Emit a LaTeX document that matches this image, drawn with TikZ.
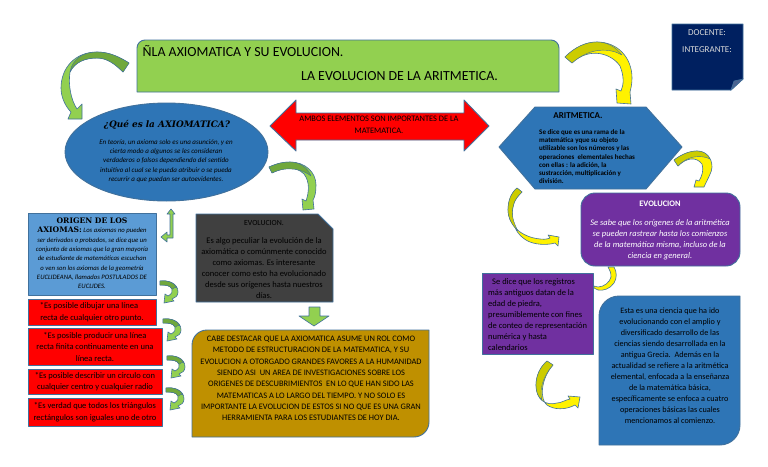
\documentclass[tikz,border=0pt]{standalone}
\usepackage{fontspec}
\setmainfont{Carlito}
\newfontfamily\headfont{DejaVu Serif}
\definecolor{lime}{HTML}{92D050}
\definecolor{edge}{HTML}{41719C}
\definecolor{midblue}{HTML}{2E75B6}
\definecolor{lightblue}{HTML}{5B9BD5}
\definecolor{darkgrey}{HTML}{404040}
\definecolor{gold}{HTML}{BF9000}
\definecolor{navy}{HTML}{002060}
\definecolor{violet2}{HTML}{7030A0}
\definecolor{leaf}{HTML}{70A83C}
\definecolor{olive2}{HTML}{CCCC00}
\tikzset{
 x=1pt,y=-1pt,
 shapeb/.style={draw=edge,line width=0.9pt,line join=round},
 rect/.style={shapeb,rectangle,inner sep=0pt,anchor=north west},
 txt/.style={inner sep=0pt,align=center,text=black},
 garrow/.style={draw=edge,line width=0.6pt,fill=lime,line join=round},
 yarrow/.style={draw=edge,line width=0.6pt,fill=yellow,line join=round},
 darkpart/.style={fill=leaf,draw=edge,line width=0.4pt,line join=round},
 ydarkpart/.style={fill=olive2,draw=edge,line width=0.4pt,line join=round},
}
\newcommand{\fs}[2]{\fontsize{#1}{#2}\selectfont}
\newcommand{\bentarrow}[2]{%
 \begin{scope}[shift={(#1,#2)}]
  \draw[garrow] (0,-2) .. controls (8,-3) and (18,0) .. (18,9) .. controls (18,13) and (15,15) .. (12,16) -- (14,18) -- (4,20) -- (5,11) -- (8,13) .. controls (12,11) and (13,8) .. (12,6) .. controls (10,2) and (5,2) .. (0,2) -- cycle;
  \draw[darkpart] (0,-2) .. controls (7,-3) and (14,-1) .. (17,5) .. controls (14,3) and (13,7) .. (12,6) .. controls (10,2) and (5,2) .. (0,2) -- cycle;
 \end{scope}}
\begin{document}
\begin{tikzpicture}
\useasboundingbox (0,0) rectangle (768,466);
\fill[white] (0,0) rectangle (768,466);

% title
\draw[shapeb,fill=lime] (137,92) -- (137,48) arc[start angle=180,end angle=270,radius=8] -- (551,40) arc[start angle=-90,end angle=0,radius=8] -- (559,92) -- cycle;
\node[txt,anchor=west,font=\fs{13.9}{18}] (t1) at (142.5,51.5) {ÑLA AXIOMATICA Y SU EVOLUCION.};
\node[txt,anchor=west,font=\fs{13.9}{18}] (t2) at (301,76) {LA EVOLUCION DE LA ARITMETICA.};

% ellipse
\draw[shapeb,fill=midblue] (166.5,152) ellipse[x radius=101.5,y radius=49];
\node[txt,font=\headfont\bfseries\itshape\fs{8.9}{12}] (q) at (167,125) {¿Qué es la AXIOMATICA?};
\node[txt,anchor=north,font=\itshape\fs{7}{9.2}] (qt) at (166,139.5) {En teoría, un axioma solo es una asunción, y en\\cierta modo a algunos se les consideran\\verdaderos o falsos dependiendo del sentido\\intuitivo al cual se le pueda atribuir o se pueda\\recurrir a que puedan ser autoevidentes.};

% double arrow
\draw[shapeb,fill=red] (270,126) -- (296,100) -- (296,113) -- (464,113) -- (464,100) -- (489,126) -- (464,151) -- (464,140) -- (296,140) -- (296,151) -- cycle;
\node[txt,font=\fs{8.4}{12}] (both) at (379,125) {AMBOS ELEMENTOS SON IMPORTANTES DE LA\\MATEMATICA.};

% left column
\node[rect,fill=lightblue,minimum width=128pt,minimum height=82pt] (orig) at (28,213) {};
\node[txt,font=\headfont\bfseries\fs{7.6}{10}] (orig1) at (92,221) {ORIGEN DE LOS};
\node[txt,anchor=north,font=\itshape\fs{6.7}{9.3}] (orig2) at (92,227) {\textup{\headfont\bfseries\fs{7.6}{9.3}AXIOMAS:} Los axiomas no pueden\\ser derivados o probados, se dice que un\\conjunto de axiomas que la gran mayoría\\de estudiante de matemáticas escuchan\\o ven son los axiomas de la geometría\\EUCLIDEANA, llamados POSTULADOS DE\\EUCLIDES.};
\node[rect,fill=red,minimum width=128pt,minimum height=26pt] (r1) at (28,299) {};
\node[txt,font=\fs{8.5}{11.7}] (r1t) at (92,312.5) {\hspace*{-6pt}*Es posible dibujar una línea\\recta de cualquier otro punto.};
\node[rect,fill=red,minimum width=134pt,minimum height=37pt] (r2) at (28,328) {};
\node[txt,font=\fs{8.5}{11.3}] (r2t) at (95,347) {*Es posible producir una línea\\recta finita continuamente en una\\línea recta.};
\node[rect,fill=red,minimum width=134pt,minimum height=25pt] (r3) at (28,369) {};
\node[txt,font=\fs{8.5}{11.3}] (r3t) at (95,381.5) {*Es posible describir un círculo con\\cualquier centro y cualquier radio};
\node[rect,fill=red,minimum width=134pt,minimum height=28pt] (r4) at (28,398) {};
\node[txt,font=\fs{8.5}{11.7}] (r4t) at (95,412) {*Es verdad que todos los triángulos\\rectángulos son iguales uno de otro};

% bent double arrow
\draw[garrow] (171,209) -- (175,214) -- (173,214) -- (173,238) -- (167,238) -- (167,242) -- (161,237) -- (167,232) -- (167,235) -- (170,235) -- (170,214) -- (167,214) -- cycle;

% small curved arrows
\bentarrow{160}{283}
\bentarrow{163}{321}
\bentarrow{167}{358}
\bentarrow{166}{390}

% dark box
\draw[shapeb,fill=darkgrey] (196,214) -- (318,214) -- (333,229) -- (333,302) -- (196,302) -- cycle;
\node[txt,font=\fs{7.8}{10}] (ev0) at (264,223) {EVOLUCION.};
\node[txt,anchor=north,font=\fs{8.5}{11}] (evt) at (264,237.5) {Es algo peculiar la evolución de la\\axiomática o comúnmente conocido\\como axiomas. Es interesante\\conocer como esto ha evolucionado\\desde sus orígenes hasta nuestros\\días.};

% down arrow
\draw[garrow] (309,307) -- (320,307) -- (320,316) -- (329,316) -- (314,326) -- (299,316) -- (309,316) -- cycle;

% gold box
\draw[shapeb,fill=gold] (192,437) -- (192,345) arc[start angle=180,end angle=270,radius=15] -- (429,330) -- (429,422) arc[start angle=0,end angle=90,radius=15] -- cycle;
\node[txt,anchor=north,font=\fs{8.4}{11.3}] (goldt) at (311,336) {CABE DESTACAR QUE LA AXIOMATICA ASUME UN ROL COMO\\METODO DE ESTRUCTURACION DE LA MATEMATICA, Y SU\\EVOLUCION A OTORGADO GRANDES FAVORES A LA HUMANIDAD\\SIENDO ASI\ \ UN AREA DE INVESTIGACIONES SOBRE LOS\\ORIGENES DE DESCUBRIMIENTOS\ \ EN LO QUE HAN SIDO LAS\\MATEMATICAS A LO LARGO DEL TIEMPO. Y NO SOLO ES\\IMPORTANTE LA EVOLUCION DE ESTOS SI NO QUE ES UNA GRAN\\HERRAMIENTA PARA LOS ESTUDIANTES DE HOY DIA.};

% docente
\draw[shapeb,fill=navy] (672,24) -- (743,24) -- (743,79) -- (731,90) -- (672,90) -- cycle;
\draw[edge,line width=0.5pt,fill=navy!70!white] (743,79) -- (731,90) -- (734,81) -- cycle;
\node[txt,text=white!85!black,font=\fs{9}{10}] (doc) at (707,33) {DOCENTE:};
\node[txt,text=white!85!black,font=\fs{9}{10}] (int) at (707,50) {INTEGRANTE:};

% hexagon
\draw[shapeb,fill=midblue] (499,147) -- (535,107) -- (646,107) -- (682,147) -- (646,189) -- (535,189) -- cycle;
\node[txt,font=\bfseries\fs{9}{10}] (ar) at (578,115.5) {ARITMETICA.};
\node[txt,anchor=north west,align=left,font=\bfseries\fs{7}{8.3}] (art) at (539,129) {Se dice que es una rama de la\\matemática yque su objeto\\utilizable son los números y las\\operaciones\ \ elementales hechas\\con ellas : la adición, la\\sustracción, multiplicación y\\división.};

% purple 1
\draw[shapeb,fill=violet2] (581,207) arc[start angle=180,end angle=270,radius=14] -- (726,193) arc[start angle=-90,end angle=0,radius=14] -- (740,252) arc[start angle=0,end angle=90,radius=14] -- (595,266) arc[start angle=90,end angle=180,radius=14] -- cycle;
\node[txt,text=white,font=\bfseries\fs{8.4}{10}] (pev) at (660,204) {EVOLUCION};
\node[txt,text=white,anchor=north,font=\itshape\fs{8.5}{11.2}] (pevt) at (660,219) {Se sabe que los orígenes de la aritmética\\se pueden rastrear hasta los comienzos\\de la matemática misma, incluso de la\\ciencia en general.};

% purple 2
\node[rect,fill=violet2,minimum width=111pt,minimum height=81pt] (p2) at (482,273) {};
\node[txt,anchor=north west,align=left,font=\fs{8.5}{11}] (p2t) at (488,278.5) {\hspace*{4pt}Se dice que los registros\\más antiguos datan de la\\edad de piedra,\\presumiblemente con fines\\de conteo de representación\\numérica y hasta\\calendarios};

% blue box
\draw[shapeb,fill=midblue] (599,445) -- (599,316) arc[start angle=180,end angle=270,radius=20] -- (740,296) -- (740,425) arc[start angle=0,end angle=90,radius=20] -- cycle;
\node[txt,anchor=north,font=\fs{8.2}{11}] (bt) at (670,308) {Esta es una ciencia que ha ido\\evolucionando con el amplio y\\diversificado desarrollo de las\\ciencias siendo desarrollada en la\\antigua Grecia.\ \ Además en la\\actualidad se refiere a la aritmética\\elemental, enfocada a la enseñanza\\de la matemática básica,\\específicamente se enfoca a cuatro\\operaciones básicas las cuales\\mencionamos al comienzo.};

% curved block arrows
\draw[garrow] (129,63) .. controls (115,54) and (105,52) .. (97,52) .. controls (75,52) and (61,68) .. (61,88) .. controls (61,98) and (66,107) .. (71,112) -- (68,119) -- (82,119) -- (82,104) -- (77,109) .. controls (71,100) and (68,85) .. (70,72) .. controls (75,62) and (85,58) .. (97,58) .. controls (107,58) and (115,64) .. (123,72) -- cycle;
\draw[darkpart] (129,63) .. controls (115,54) and (105,52) .. (97,52) .. controls (82,52) and (72,60) .. (70,72) .. controls (75,62) and (85,58) .. (97,58) .. controls (107,58) and (115,64) .. (123,72) -- cycle;

\draw[garrow] (269,167) .. controls (278,163) and (284,162) .. (290,162) .. controls (305,162) and (316,172) .. (316,185) .. controls (316,192) and (315,197) .. (313,200) -- (314,209) -- (303,210) -- (302,199) -- (306,201) .. controls (309,192) and (310,182) .. (304,174) .. controls (296,166) and (284,167) .. (272,173) -- cycle;
\draw[darkpart] (269,167) .. controls (278,163) and (284,162) .. (290,162) .. controls (300,162) and (308,168) .. (311,176) .. controls (304,170) and (288,165) .. (272,173) -- cycle;

\draw[yarrow] (565,57) .. controls (575,47) and (586,42) .. (597,42) .. controls (618,42) and (632,58) .. (632,78) .. controls (632,84) and (631,88) .. (630,92) -- (631,104) -- (617,103) -- (616,89) -- (621,91) .. controls (624,84) and (624,76) .. (620,66) .. controls (612,54) and (590,46) .. (572,63) -- cycle;
\draw[ydarkpart] (565,57) .. controls (575,47) and (586,42) .. (597,42) .. controls (607,42) and (616,47) .. (622,55) .. controls (610,48) and (590,47) .. (572,63) -- cycle;

\draw[yarrow] (674,160) .. controls (682,154) and (690,151) .. (697,151) .. controls (706,151) and (712,158) .. (712,167) .. controls (712,172) and (708,178) .. (704,187) -- (694,187) -- (696,180) -- (699,181) .. controls (702,176) and (704,170) .. (702,164) .. controls (696,156) and (686,158) .. (678,166) -- cycle;
\draw[ydarkpart] (674,160) .. controls (682,154) and (690,151) .. (697,151) .. controls (703,151) and (708,154) .. (710,159) .. controls (702,155) and (688,155) .. (678,166) -- cycle;

\draw[yarrow] (517,188) .. controls (511,193) and (508,201) .. (508,210) .. controls (508,224) and (520,237) .. (540,239) .. controls (546,240) and (550,238) .. (550,238) -- (548,235) -- (559,237) -- (558,246) -- (555,243) .. controls (548,245) and (538,245) .. (530,242) .. controls (515,236) and (510,220) .. (513,207) .. controls (514,200) and (518,196) .. (522,192) -- cycle;
\draw[ydarkpart] (517,188) .. controls (511,193) and (508,201) .. (508,210) .. controls (508,218) and (512,225) .. (518,231) .. controls (513,222) and (511,213) .. (513,207) .. controls (514,200) and (518,196) .. (522,192) -- cycle;

\draw[yarrow] (547,361) .. controls (540,367) and (536,376) .. (536,385) .. controls (536,400) and (546,406) .. (557,403) .. controls (561,403) and (565,400) .. (570,399) -- (568,396) -- (580,397) -- (578,408) -- (575,405) .. controls (566,410) and (554,410) .. (547,405) .. controls (540,400) and (540,380) .. (553,365) -- cycle;
\draw[ydarkpart] (547,361) .. controls (540,367) and (536,376) .. (536,385) .. controls (536,392) and (538,397) .. (542,400) .. controls (539,390) and (543,376) .. (553,365) -- cycle;

\draw[yarrow] (608,267) -- (614,267) .. controls (617,272) and (617,278) .. (614,283) .. controls (610,289) and (603,291) .. (598,290) -- (594,288) -- (594,286) -- (598,287) .. controls (604,287) and (610,282) .. (611,277) .. controls (611,273) and (610,270) .. (608,267) -- cycle;
\end{tikzpicture}
\end{document}
